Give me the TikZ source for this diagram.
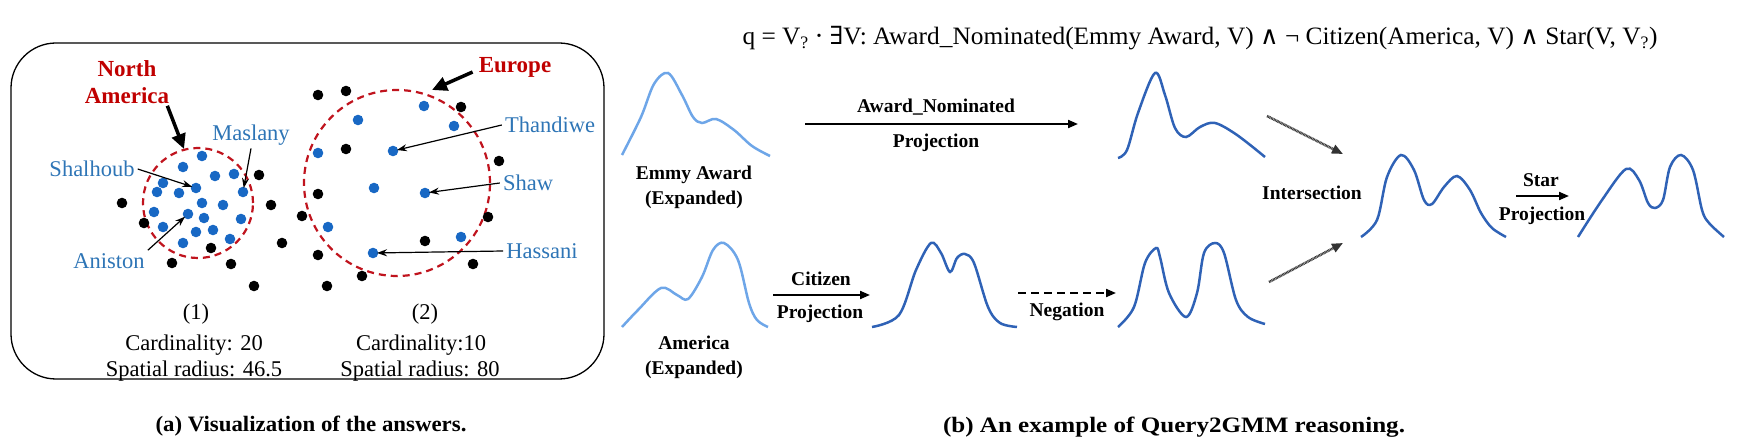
\documentclass[tikz,border=0pt]{standalone}
\usepackage{fontspec}
\setmainfont{Liberation Serif}
\newfontfamily\symf{DejaVu Serif}
\usetikzlibrary{arrows.meta}
\definecolor{dotblue}{HTML}{1868C4}
\definecolor{nameblue}{HTML}{2E75B6}
\definecolor{labred}{HTML}{C00000}
\definecolor{circred}{HTML}{C0141E}
\definecolor{lightcurve}{HTML}{6EA6E8}
\definecolor{darkcurve}{HTML}{2F62B6}
\newsavebox\fitbox
\newlength\fitlen
\newcommand\fitwidth[2]{\sbox\fitbox{#2}\setlength\fitlen{\wd\fitbox}\pgfmathsetmacro\fitr{#1/\fitlen}\scalebox{\fitr}[1]{\usebox\fitbox}}
\begin{document}
\begin{tikzpicture}[x=1pt,y=-1pt,
  nametext/.style={text=nameblue,font=\fontsize{22.5}{27}\selectfont,inner sep=3pt},
  plaintext/.style={font=\fontsize{22.5}{27}\selectfont,inner sep=0pt},
  regiontext/.style={text=labred,font=\fontsize{23}{27}\selectfont\bfseries,align=center,inner sep=0pt},
  boldlab/.style={font=\fontsize{19.5}{25}\selectfont\bfseries,align=center,inner sep=0pt},
  captext/.style={font=\fontsize{22}{26}\selectfont\bfseries,inner sep=0pt},
  thinarrow/.style={draw=black,line width=1.2pt,-{Stealth[length=10pt,width=7pt]},shorten >=4pt},
  thickarrow/.style={draw=black,line width=3.5pt,-{Triangle[length=15pt,width=14pt]}},
  regioncircle/.style={draw=circred,line width=2.2pt,dash pattern=on 7pt off 5pt},
  flowarrow/.style={draw=black,line width=2pt,-{Triangle[length=10pt,width=8pt]}},
  hatcharrow/.style={draw=black!80,line width=2.5pt,dash pattern=on 0.9pt off 0.6pt,-{Triangle[length=11pt,width=9pt]}},
  lightgmm/.style={draw=lightcurve,line width=2.5pt},
  darkgmm/.style={draw=darkcurve,line width=2.5pt}
]
\useasboundingbox (0,0) rectangle (1738,438);

% ---------------- panel (a) ----------------
\draw[line width=1.3pt,rounded corners=45pt] (11,43) rectangle (604,379);

\draw[regioncircle] (198,203) circle (55pt);
\draw[regioncircle] (397,183) circle (93pt);

% black dots
\foreach \x/\y in {122/203,144/223,259/175,271/205,211/248,172/263,231/264,254/286,282/243,302/216,
  318/95,346/91,461/107,346/149,499/161,318/194,425/241,318/255,473/264,362/276,327/286,488/217}
  \fill[black] (\x,\y) circle (5.3pt);
% blue dots, cluster 1
\foreach \x/\y in {202/156,183/167,215/176,234/174,163/183,196/188,157/192,179/193,243/192,202/203,
  223/205,154/212,188/214,204/218,241/219,163/227,196/232,213/230,230/239,183/243}
  \fill[dotblue] (\x,\y) circle (5.3pt);
% blue dots, cluster 2
\foreach \x/\y in {424/106,358/120,454/126,318/153,393/151,374/188,425/193,328/227,461/237,373/253}
  \fill[dotblue] (\x,\y) circle (5.3pt);

\coordinate (dShal) at (196,188);
\coordinate (dMas) at (243,192);
\coordinate (dAni) at (188,214);
\coordinate (dTha) at (393,151);
\coordinate (dShaw) at (425,193);
\coordinate (dHas) at (373,253);

\node[regiontext] (na) at (127,82) {North\\America};
\node[regiontext] (eu) at (515,67) {Europe};
\coordinate (natip) at (184,149);
\coordinate (eutip) at (432,90);
\draw[thickarrow] (na.south east) ++(-2,2) coordinate (nastart) (nastart) -- (natip);
\draw[thickarrow] (eu.west) ++(-6,5) coordinate (eustart) (eustart) -- (eutip);

\node[nametext] (mas) at (251,135) {Maslany};
\node[nametext] (shal) at (92,169) {Shalhoub};
\node[nametext] (ani) at (109,261) {Aniston};
\node[nametext] (tha) at (550,125) {Thandiwe};
\node[nametext] (shaw) at (528,183) {Shaw};
\node[nametext] (has) at (542,251) {Hassani};

\draw[thinarrow] (shal.east) -- (dShal);
\draw[thinarrow] (mas.south) -- (dMas);
\draw[thinarrow] (ani.north east) -- (dAni);
\draw[thinarrow] (tha.west) -- (dTha);
\draw[thinarrow] (shaw.west) -- (dShaw);
\draw[thinarrow] (has.west) -- (dHas);

\node[plaintext] (one) at (196,314) {(1)};
\node[plaintext] (card1) at (194,345) {Cardinality: 20};
\node[plaintext] (rad1) at (194,371) {Spatial radius: 46.5};
\node[plaintext] (two) at (425,314) {(2)};
\node[plaintext] (card2) at (421,345) {Cardinality:10};
\node[plaintext] (rad2) at (420,371) {Spatial radius: 80};

\node[captext] (capa) at (311,426) {\fitwidth{311pt}{(a) Visualization of the answers.}};

% ---------------- panel (b) ----------------
\node[inner sep=0pt,font=\fontsize{25}{30}\selectfont] (formula) at (1200,38)
  {\fitwidth{915pt}{q = V\textsubscript{?} {\symf ·} {\symf ∃}V: Award\_Nominated(Emmy Award, V) {\symf ∧} ¬ Citizen(America, V) {\symf ∧} Star(V, V\textsubscript{?})}};

% curves
\draw[lightgmm] plot[smooth,tension=0.55] coordinates {(622,155) (641,117) (654,84) (668,73) (682,95) (693,117) (702,123) (716,119) (734,130) (752,146) (770,156)};
\draw[darkgmm] plot[smooth,tension=0.55] coordinates {(1118,158) (1127,150) (1138,113) (1155,73) (1165,95) (1175,128) (1186,137) (1200,127) (1215,123) (1237,135) (1265,157)};
\draw[lightgmm] plot[smooth,tension=0.55] coordinates {(622,327) (638,310) (661,288) (677,295) (688,299) (702,277) (713,250) (724,243) (738,260) (749,303) (757,320) (768,327)};
\draw[darkgmm] plot[smooth,tension=0.55] coordinates {(872,327) (899,315) (916,270) (931,243) (941,253) (950,272) (957,258) (965,254) (974,263) (988,307) (1000,323) (1017,327)};
\draw[darkgmm] plot[smooth,tension=0.55] coordinates {(1118,327) (1134,307) (1145,263) (1156,248) (1160,257) (1169,293) (1186,317) (1197,293) (1204,253) (1215,243) (1224,253) (1236,300) (1248,317) (1265,324)};
\draw[darkgmm] plot[smooth,tension=0.55] coordinates {(1361,237) (1377,220) (1387,177) (1401,155) (1414,170) (1424,200) (1432,204) (1444,187) (1457,176) (1470,190) (1481,213) (1492,228) (1506,237)};
\draw[darkgmm] plot[smooth,tension=0.55] coordinates {(1578,237) (1602,200) (1626,169) (1639,180) (1648,203) (1655,208) (1663,200) (1670,167) (1681,155) (1693,170) (1702,210) (1709,223) (1724,237)};

% labels
\node[boldlab] (emmy) at (694,187.5) {Emmy Award\\(Expanded)};
\node[boldlab] (amer) at (694,357.5) {America\\(Expanded)};
\node[boldlab] (anl) at (936,107) {Award\_Nominated};
\node[boldlab] (anp) at (936,143) {Projection};
\node[boldlab] (cil) at (821,279) {Citizen};
\node[boldlab] (cip) at (820,314) {Projection};
\node[boldlab] (neg) at (1067,312) {Negation};
\node[boldlab] (inter) at (1312,193) {Intersection};
\node[boldlab] (stl) at (1541,180) {Star};
\node[boldlab] (stp) at (1542,216) {Projection};

% arrows
\coordinate (an1) at (805,124); \coordinate (an2) at (1078,124);
\coordinate (ci1) at (773,295); \coordinate (ci2) at (870,295);
\coordinate (ng1) at (1018,293); \coordinate (ng2) at (1116,293);
\coordinate (iu1) at (1267,116); \coordinate (iu2) at (1343,154);
\coordinate (il1) at (1269,282); \coordinate (il2) at (1343,243);
\coordinate (st1) at (1516,196); \coordinate (st2) at (1569,196);
\draw[flowarrow] (an1) -- (an2);
\draw[flowarrow] (ci1) -- (ci2);
\draw[flowarrow,dash pattern=on 8pt off 5pt] (ng1) -- (ng2);
\draw[hatcharrow] (iu1) -- (iu2);
\draw[hatcharrow] (il1) -- (il2);
\draw[flowarrow] (st1) -- (st2);

\node[captext] (capb) at (1174,427) {\fitwidth{462pt}{(b) An example of Query2GMM reasoning.}};
\end{tikzpicture}
\end{document}
